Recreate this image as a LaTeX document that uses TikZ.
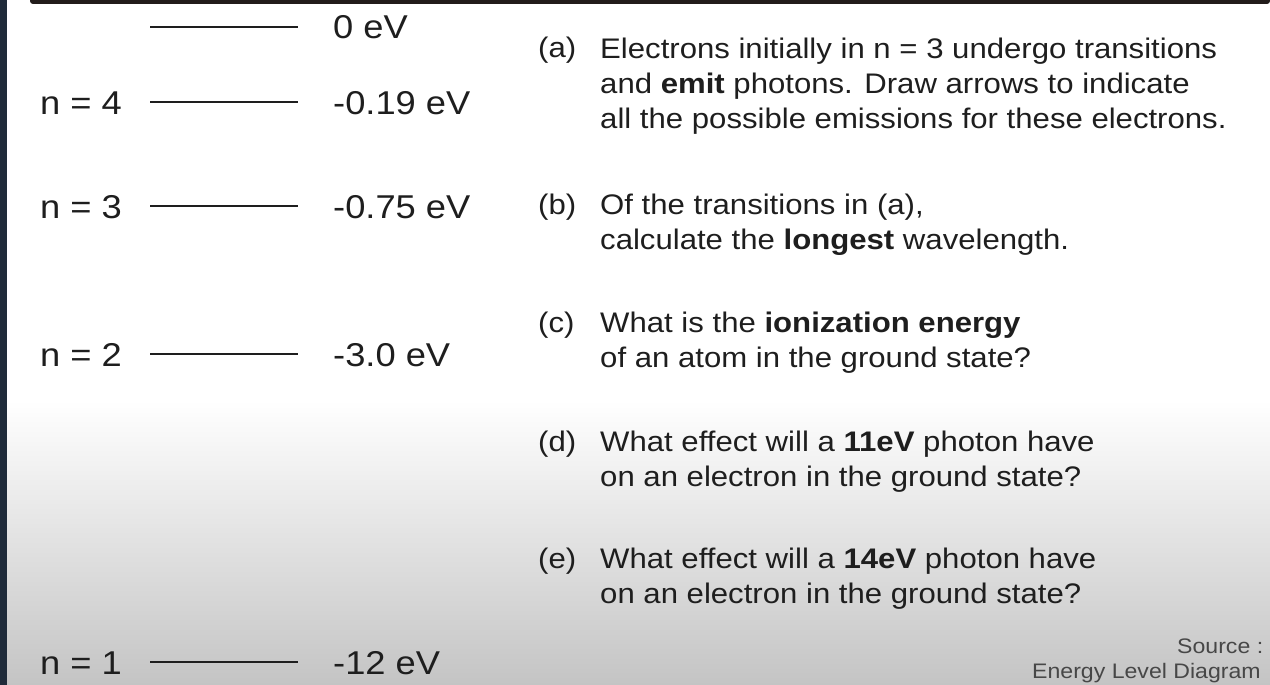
\documentclass[tikz,border=0pt]{standalone}
\usepackage{fontspec}
\setmainfont[FakeStretch=1.1]{Liberation Sans}
\usetikzlibrary{positioning}

\definecolor{ink}{HTML}{1E1E1E}
\definecolor{bgray}{HTML}{C4C4C4}
\definecolor{edge}{HTML}{1F2B3A}
\definecolor{topbar}{HTML}{221C1A}

\begin{document}
\begin{tikzpicture}[x=1pt,y=-1pt,
    lvl/.style={draw=ink, line width=2.8pt},
    lbl/.style={anchor=base west, inner sep=0pt, text=ink, font=\fontsize{33}{40}\selectfont},
    txt/.style={anchor=base west, inner sep=0pt, text=ink, font=\fontsize{28.3}{35.3}\selectfont},
    qtxt/.style={txt, align=left},
    src/.style={anchor=base west, inner sep=0pt, text=black!72, font=\fontsize{21}{25}\selectfont}]
    % Hintergrund mit Verlauf nach unten
    \useasboundingbox (0,0) rectangle (1270,685);
    \fill[white] (0,0) rectangle (1270,685);
    \shade[top color=white, bottom color=bgray] (0,400) rectangle (1270,685);
    \fill[edge] (0,0) rectangle (7,685);
    \fill[topbar, rounded corners=3pt] (30,-6) rectangle (1270,4);

    % Energieniveaus
    \foreach \nm/\yy/\lab/\en in {l5/27/{}/0 eV, l4/102/n = 4/-0.19 eV, l3/206/n = 3/-0.75 eV,
                                  l2/354/n = 2/-3.0 eV, l1/662/n = 1/-12 eV} {
        \coordinate (\nm a) at (150,\yy);
        \coordinate (\nm b) at (298,\yy);
        \draw[lvl] (\nm a) -- (\nm b);
        \node[lbl] (n\nm) at (40,\yy+12) {\lab};
        \node[lbl] (e\nm) at (333,\yy+12) {\en};
    }

    % Aufgaben (Knoten sitzen auf der letzten Grundlinie)
    \node[txt] (qa) at (538,58) {(a)};
    \node[qtxt] (ta) at (600,128.6) {Electrons initially in n = 3 undergo transitions\\
        and \textbf{emit} photons. Draw arrows to indicate\\
        all the possible emissions for these electrons.};
    \node[txt] (qb) at (538,214) {(b)};
    \node[qtxt] (tb) at (600,249.3) {Of the transitions in (a),\\
        calculate the \textbf{longest} wavelength.};
    \node[txt] (qc) at (538,332) {(c)};
    \node[qtxt] (tc) at (600,367.3) {What is the \textbf{ionization energy}\\
        of an atom in the ground state?};
    \node[txt] (qd) at (538,451) {(d)};
    \node[qtxt] (td) at (600,486.3) {What effect will a \textbf{11eV} photon have\\
        on an electron in the ground state?};
    \node[txt] (qe) at (538,568) {(e)};
    \node[qtxt] (te) at (600,603.3) {What effect will a \textbf{14eV} photon have\\
        on an electron in the ground state?};

    % Quelle
    \node[src] (s1) at (1177,653) {Source :};
    \node[src] (s2) at (1032,678) {Energy Level Diagram};
\end{tikzpicture}
\end{document}
